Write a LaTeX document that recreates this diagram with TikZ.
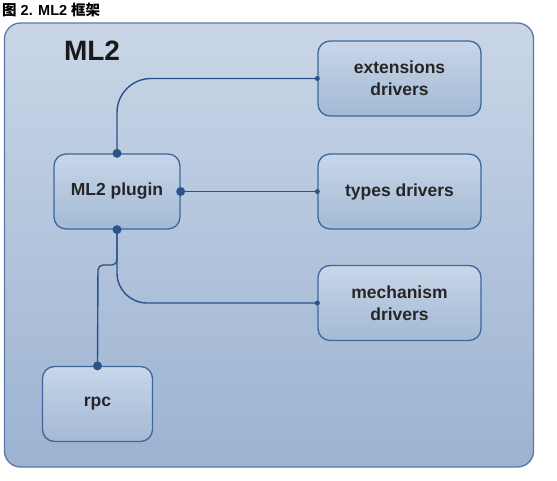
\documentclass[tikz,border=0pt]{standalone}
\usepackage{fontspec}
\setmainfont{Liberation Sans}
\newfontfamily\cjk{Noto Sans CJK SC}
\definecolor{outerTop}{HTML}{C9D6E7}
\definecolor{outerBot}{HTML}{9CB3D1}
\definecolor{outerLine}{HTML}{5A78A6}
\definecolor{boxTop}{HTML}{C8D6E8}
\definecolor{boxBot}{HTML}{A3B9D5}
\definecolor{boxLine}{HTML}{3F679C}
\definecolor{conn}{HTML}{2B5289}
\begin{document}
\begin{tikzpicture}[x=1pt,y=-1pt,
  drvbox/.style={draw=boxLine, line width=1.3pt, rounded corners=12pt,
    top color=boxTop, bottom color=boxBot, minimum width=163pt, minimum height=75pt,
    inner sep=0pt, align=center, font=\fontsize{17.5}{22}\selectfont\bfseries, text=black!85},
  wire/.style={draw=conn, line width=1.4pt},
  bigdot/.style={circle, fill=conn, inner sep=0pt, minimum size=9pt},
  smalldot/.style={circle, fill=conn, inner sep=0pt, minimum size=5pt}]
\useasboundingbox (0,0) rectangle (557,480);
\node[anchor=west, font=\fontsize{14.5}{16}\selectfont\bfseries, inner sep=0pt] (cap) at (2,10) {{\cjk 图} 2. ML2 {\cjk 框架}};
\node[draw=outerLine, line width=1.3pt, rounded corners=16pt, top color=outerTop, bottom color=outerBot,
  minimum width=529pt, minimum height=444pt, inner sep=0pt] (outer) at (269,245) {};
\node[font=\fontsize{28}{32}\selectfont\bfseries, text=black!90, inner sep=0pt] (title) at (92,51) {ML2};
\node[drvbox] (ext) at (399.5,78.5) {extensions\\drivers};
\node[drvbox, minimum width=126pt] (plugin) at (117,191.5) {ML2 plugin};
\node[drvbox] (types) at (399.5,191.5) {types drivers};
\node[drvbox] (mech) at (399.5,303) {mechanism\\drivers};
\node[drvbox, minimum width=110pt] (rpc) at (97.5,404) {rpc};
\coordinate (bendA) at (117,265);
\coordinate (bendB) at (98,265);
\draw[wire, rounded corners=34pt] (plugin.north) |- (ext.west);
\draw[wire] (plugin.east) -- (types.west);
\draw[wire, rounded corners=30pt] (plugin.south) |- (mech.west);
\draw[wire, rounded corners=5pt] (plugin.south) -- (bendA) -- (bendB) -- (rpc.north);
\node[bigdot] (d1) at (plugin.north) {};
\node[bigdot] (d2) at (plugin.east) {};
\node[bigdot] (d3) at (plugin.south) {};
\node[bigdot] (d4) at (rpc.north) {};
\node[smalldot] (d5) at (ext.west) {};
\node[smalldot] (d6) at (types.west) {};
\node[smalldot] (d7) at (mech.west) {};
\end{tikzpicture}
\end{document}
